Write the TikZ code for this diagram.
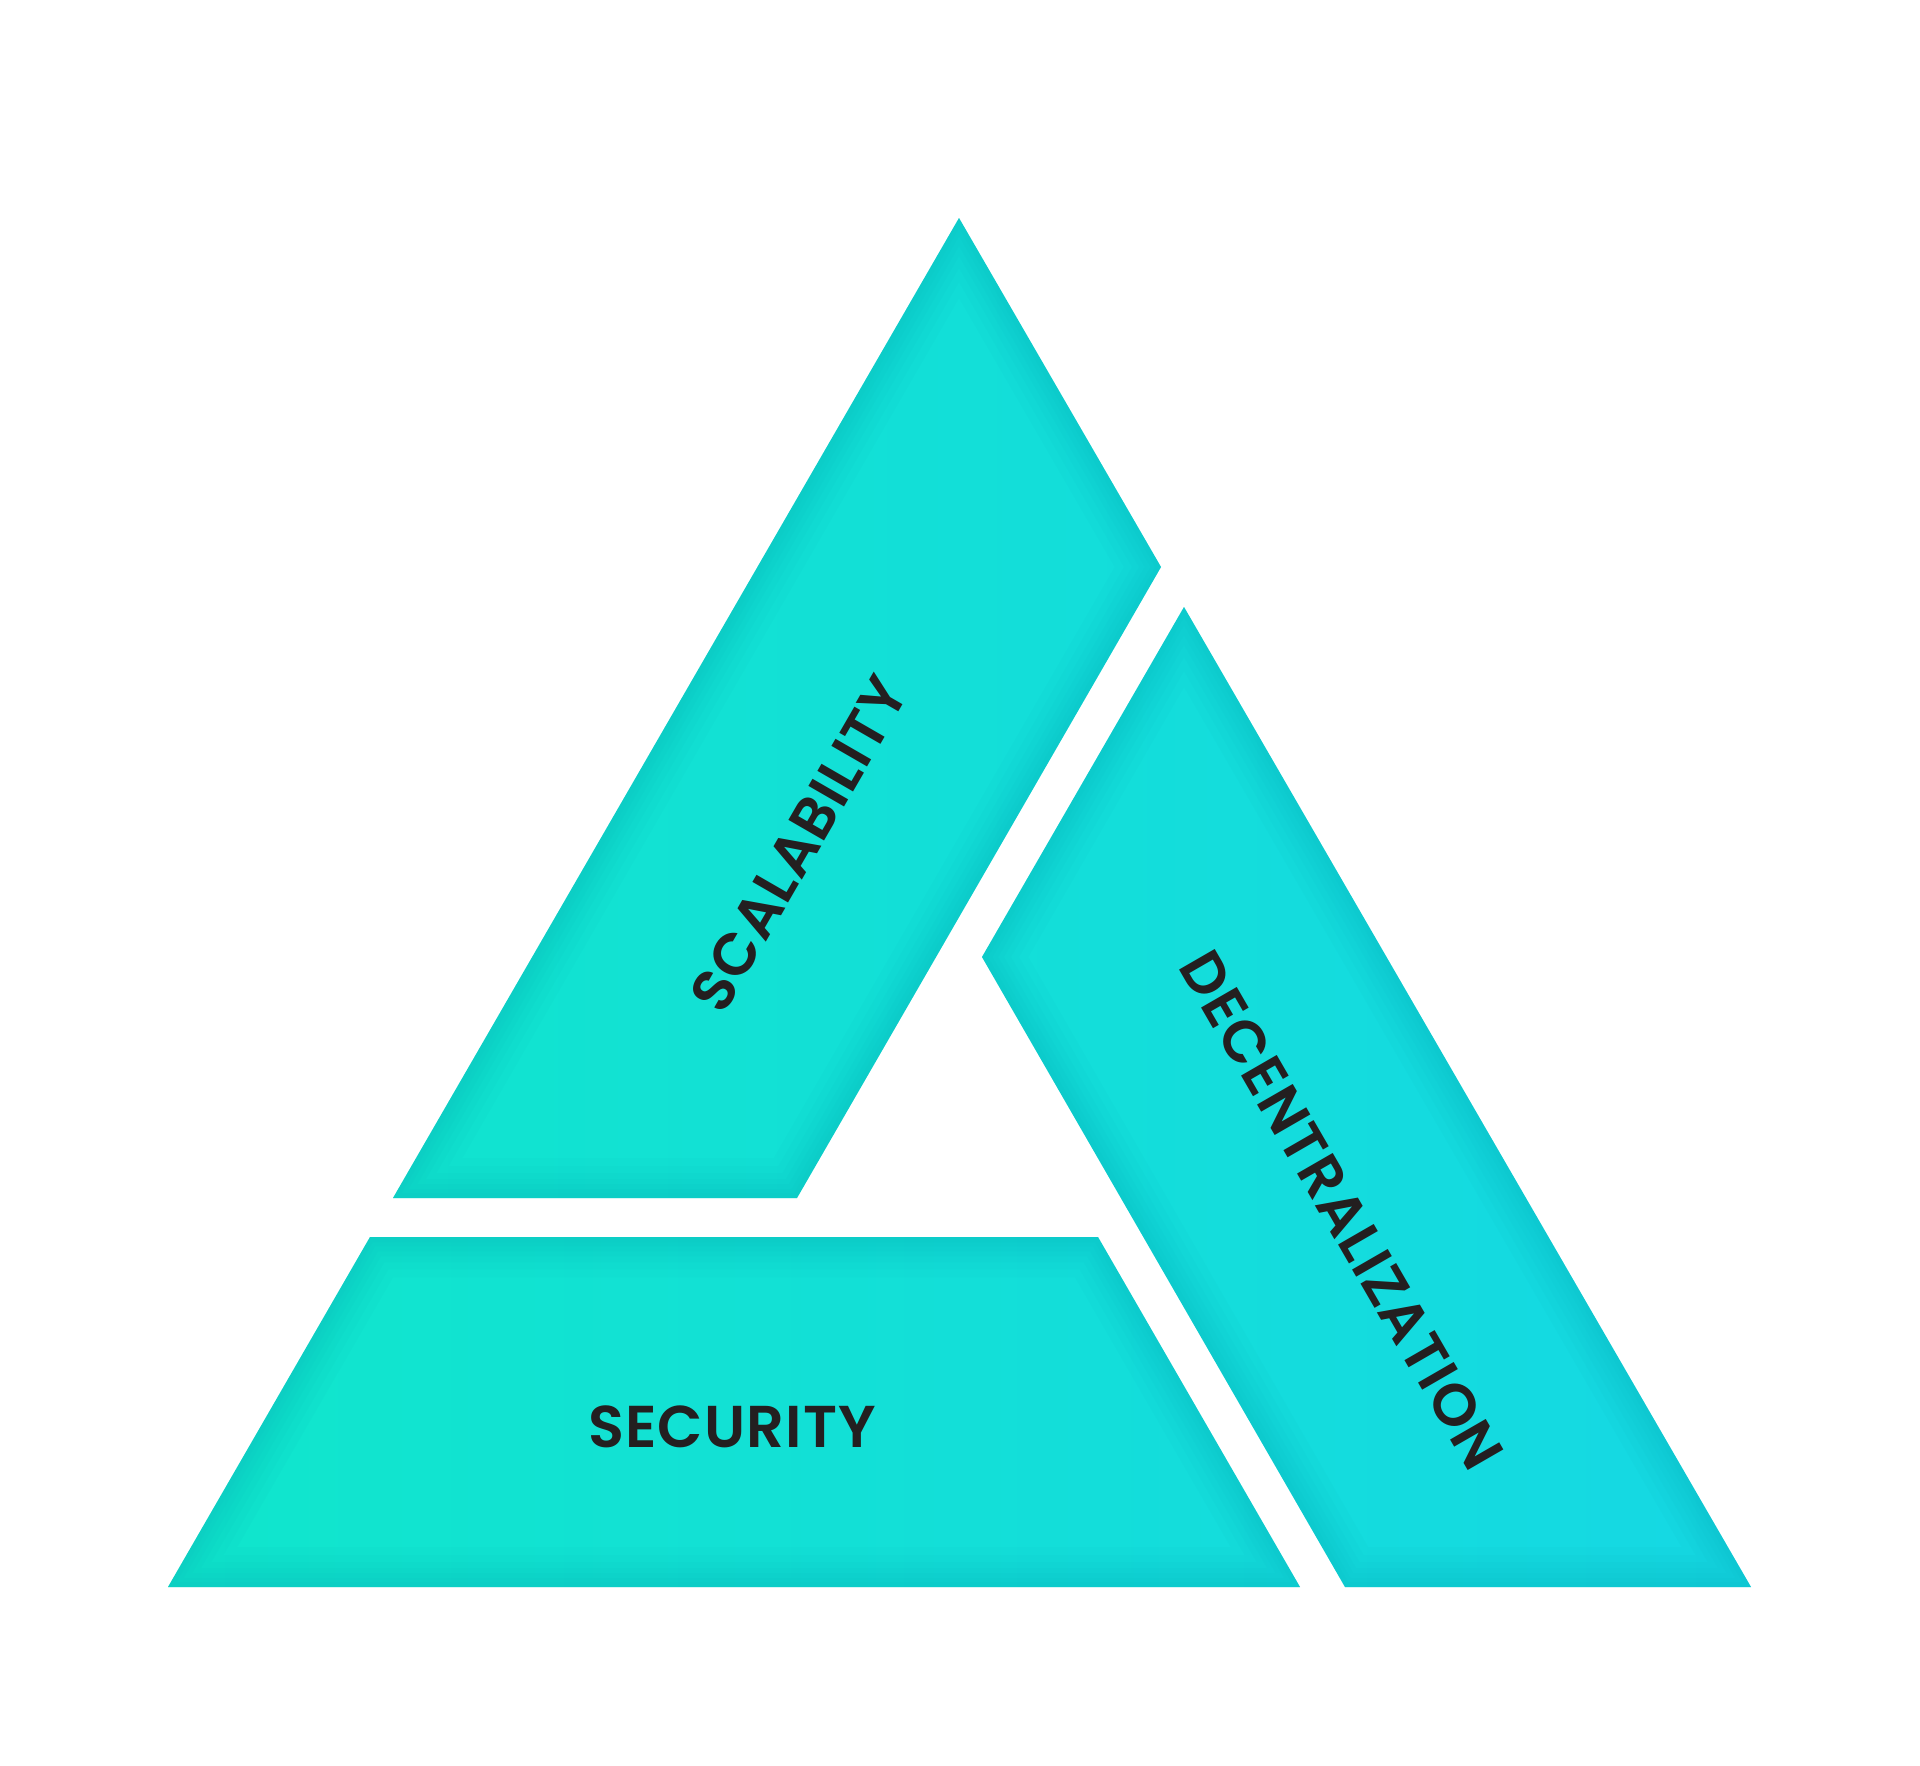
\documentclass[tikz,border=0pt]{standalone}
\usepackage{fontspec}
\usepackage{tikz}
\newfontfamily\tagfont{Poppins SemiBold}[LetterSpace=2]

\definecolor{inkdark}{RGB}{35,31,32}
\definecolor{rim}{RGB}{12,170,180}
\definecolor{secL}{RGB}{16,230,204}
\definecolor{secR}{RGB}{20,220,221}
\definecolor{scaL}{RGB}{17,228,207}
\definecolor{scaR}{RGB}{19,221,219}
\definecolor{decL}{RGB}{19,223,216}
\definecolor{decR}{RGB}{21,216,228}

% one shaded facet of the triangle, with a soft darker rim
\newcommand{\facet}[3]{%
  \begin{scope}
    \clip #1 -- cycle;
    \shade[left color=#2, right color=#3] #1 -- cycle;
    \foreach \w in {80,64,50,38,28,18,10}
      \draw[line width=\w, draw=rim, opacity=0.05, line join=miter] #1 -- cycle;
  \end{scope}}

\begin{document}
\begin{tikzpicture}[x=1pt, y=-1pt, tag/.style={text=inkdark, font=\tagfont\fontsize{59}{66}\selectfont, inner sep=0pt}]
			\useasboundingbox (0,0) rectangle (1920,1766);
			
			\coordinate (apex) at (959,218);
			\coordinate (tip) at (1161,567);
			\coordinate (scabr) at (797,1198);
			\coordinate (scabl) at (393,1198);
			\coordinate (dectop) at (1184,607);
			\coordinate (decin) at (982,957);
			\coordinate (decbl) at (1345,1587);
			\coordinate (decbr) at (1751,1587);
			\coordinate (sectl) at (370,1237);
			\coordinate (sectr) at (1098,1237);
			\coordinate (secbr) at (1300,1587);
			\coordinate (secbl) at (168,1587);
			
			\facet{(apex) -- (tip) -- (scabr) -- (scabl)}{scaL}{scaR}
			\facet{(dectop) -- (decbr) -- (decbl) -- (decin)}{decL}{decR}
			\facet{(sectl) -- (sectr) -- (secbr) -- (secbl)}{secL}{secR}
			
			\node[tag, rotate=60] (scal) at (799,844) {SCALABILITY};
			\node[tag, rotate=-60] (dec) at (1342,1210) {DECENTRALIZATION};
			\node[tag] (sec) at (732,1427) {SECURITY};
			\end{tikzpicture}
\end{document}
